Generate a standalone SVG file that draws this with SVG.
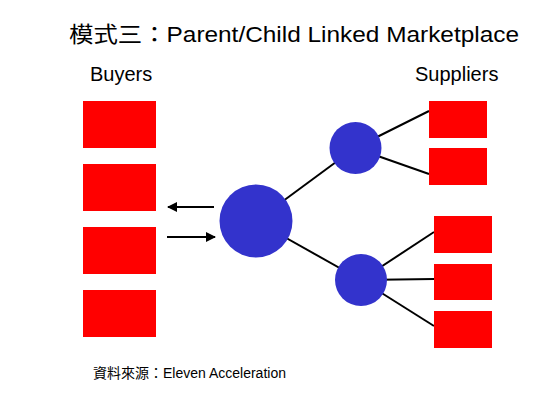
<svg xmlns="http://www.w3.org/2000/svg" width="555" height="406" viewBox="0 0 555 406">
<style>
.box{fill:#FF0000}
.hub{fill:#3333CC}
.ln{stroke:#000;stroke-width:2;fill:none}
.t{font-family:"Liberation Sans","Noto Sans CJK TC",sans-serif;fill:#000}
</style>
<defs>
<marker id="ah" viewBox="0 0 10 10" refX="9" refY="5" markerWidth="5" markerHeight="5" orient="auto" markerUnits="strokeWidth"><path d="M0,0 L10,5 L0,10 Z" fill="#000"/></marker>
</defs>
<rect width="555" height="406" fill="#fff"/>
<text class="t" x="69" y="42" font-size="22" textLength="450" lengthAdjust="spacingAndGlyphs">模式三：Parent/Child Linked Marketplace</text>
<text class="t" x="90" y="81" font-size="20">Buyers</text>
<text class="t" x="415" y="81" font-size="20">Suppliers</text>
<text class="t" x="93" y="378" font-size="14">資料來源：Eleven Acceleration</text>
<g id="connectors">
<line class="ln" x1="256" y1="221" x2="355" y2="148"/>
<line class="ln" x1="256" y1="221" x2="361" y2="280"/>
<line class="ln" x1="355" y1="148" x2="429" y2="111"/>
<line class="ln" x1="355" y1="148" x2="429" y2="174"/>
<line class="ln" x1="361" y1="280" x2="434" y2="232"/>
<line class="ln" x1="361" y1="280" x2="434" y2="279"/>
<line class="ln" x1="361" y1="280" x2="434" y2="326"/>
<line class="ln" x1="214" y1="207" x2="168" y2="207" marker-end="url(#ah)"/>
<line class="ln" x1="167" y1="237" x2="215" y2="237" marker-end="url(#ah)"/>
</g>
<g id="buyer1"><rect class="box" x="83" y="101" width="73" height="47"/></g>
<g id="buyer2"><rect class="box" x="83" y="164" width="73" height="47"/></g>
<g id="buyer3"><rect class="box" x="83" y="227" width="73" height="47"/></g>
<g id="buyer4"><rect class="box" x="83" y="290" width="73" height="47"/></g>
<g id="parent"><circle class="hub" cx="256" cy="221" r="36.5"/></g>
<g id="child1"><circle class="hub" cx="355.5" cy="148" r="26"/></g>
<g id="child2"><circle class="hub" cx="361" cy="280" r="26"/></g>
<g id="supplier1"><rect class="box" x="429" y="101" width="58" height="37"/></g>
<g id="supplier2"><rect class="box" x="429" y="148" width="58" height="37"/></g>
<g id="supplier3"><rect class="box" x="434" y="216" width="58" height="37"/></g>
<g id="supplier4"><rect class="box" x="434" y="264" width="58" height="36"/></g>
<g id="supplier5"><rect class="box" x="434" y="311" width="58" height="37"/></g>
</svg>
